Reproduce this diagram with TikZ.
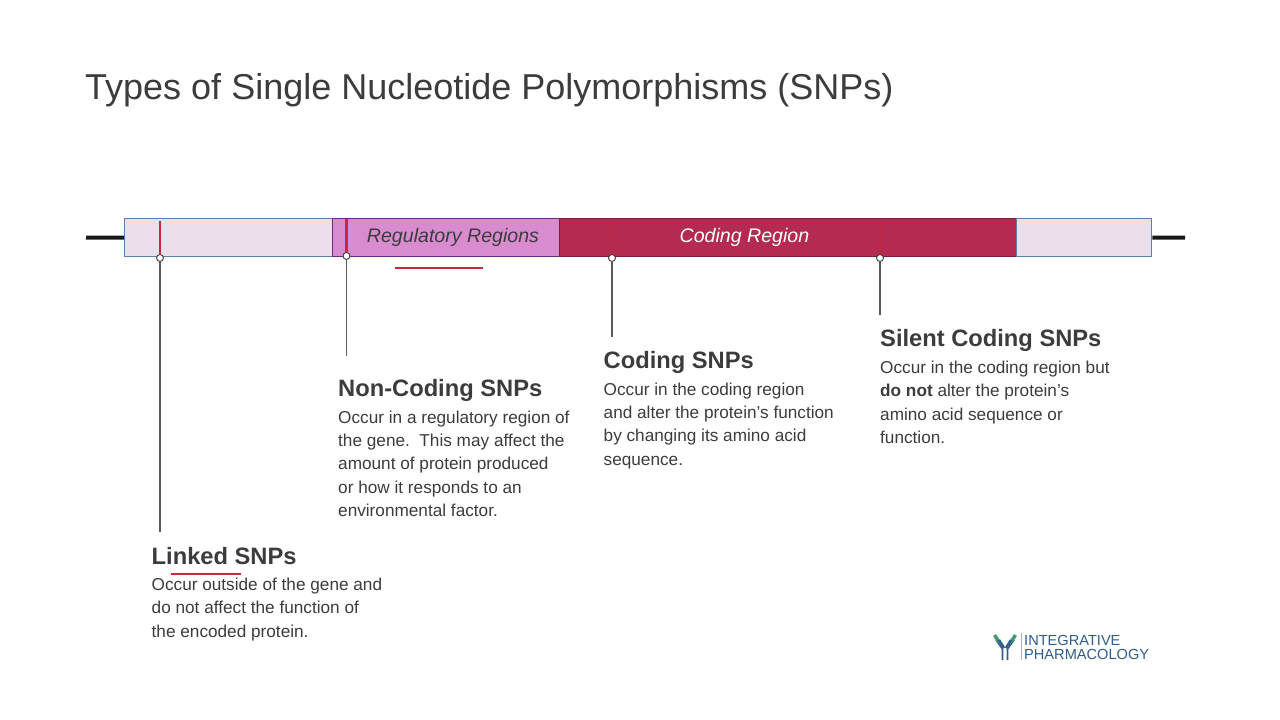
\documentclass[tikz,border=0pt]{standalone}
\usepackage{fontspec}
\setmainfont{Liberation Sans}
\definecolor{inkgrey}{HTML}{3C3C3C}
\definecolor{palebox}{HTML}{EBDFEB}
\definecolor{boxedge}{HTML}{5B82AE}
\definecolor{regfill}{HTML}{D98BCF}
\definecolor{regedge}{HTML}{6B2A86}
\definecolor{codfill}{HTML}{B42A50}
\definecolor{codedge}{HTML}{7A1E3C}
\definecolor{snpred}{HTML}{C8283C}
\definecolor{logoblue}{HTML}{2F5D8C}
\definecolor{logogreen}{HTML}{3E9B6E}
\tikzset{
  seg/.style={draw=boxedge,line width=1.3pt,fill=palebox,minimum height=38pt,inner sep=0pt,anchor=north west},
  marker/.style={circle,draw=inkgrey,fill=white,line width=0.9pt,minimum size=7pt,inner sep=0pt},
  leader/.style={draw=black!65,line width=1.2pt},
  tick/.style={draw=snpred,line width=2.4pt},
  heading/.style={anchor=base west,inner sep=0pt,text=inkgrey,font=\fontsize{23.7}{28}\selectfont\bfseries},
  body/.style={anchor=north west,inner sep=0pt,text=inkgrey,align=left,font=\fontsize{17.2}{23.3}\selectfont},
}
\begin{document}
\begin{tikzpicture}[x=1pt,y=-1pt]
   \useasboundingbox[fill=white] (0,0) rectangle (1280,720);
   \node[anchor=base west,inner sep=0pt,text=inkgrey,font=\fontsize{36}{40}\selectfont] (title) at (85,99.5) {Types of Single Nucleotide Polymorphisms (SNPs)};
   % gene bar
   \coordinate (wireL) at (86,237.5);
   \coordinate (wireR) at (1185,237.5);
   \node[seg,minimum width=208pt] (flankL) at (124,218) {};
   \node[seg,minimum width=227pt,fill=regfill,draw=regedge] (reg) at (332,218) {};
   \node[seg,minimum width=457pt,fill=codfill,draw=codedge] (cod) at (559,218) {};
   \node[seg,minimum width=135pt] (flankR) at (1016,218) {};
   \draw[line width=4pt,black!90] (wireL) -- (flankL.west);
   \draw[line width=4pt,black!90] (flankR.east) -- (wireR);
   \node[font=\fontsize{19.6}{24}\selectfont\itshape,text=inkgrey] (regtext) at (453,237) {Regulatory Regions};
   \node[font=\fontsize{19.6}{24}\selectfont\itshape,text=white] (codtext) at (744.5,237) {Coding Region};
   % markers
   \node[marker] (m1) at (160,258) {};
   \node[marker] (m2) at (346.5,256) {};
   \node[marker] (m3) at (612,258) {};
   \node[marker] (m4) at (880,258) {};
   \coordinate (t1) at (160,221);
   \coordinate (t2) at (346.5,219);
   \coordinate (t3) at (612,219);
   \coordinate (t4) at (880,219);
   \draw[tick] (t1) -- (m1);
   \draw[tick] (t2) -- (m2);
   \draw[draw=snpred!80!codfill,line width=0.8pt] (t3) -- (m3);
   \draw[draw=snpred!80!codfill,line width=0.8pt] (t4) -- (m4);
   \coordinate (e1) at (160,532);
   \coordinate (e2) at (346.5,356);
   \coordinate (e3) at (612,337);
   \coordinate (e4) at (880,315);
   \draw[leader] (m1) -- (e1);
   \draw[leader] (m2) -- (e2);
   \draw[leader] (m3) -- (e3);
   \draw[leader] (m4) -- (e4);
   % texts
   \node[heading] (h1) at (151.5,564) {Linked SNPs};
   \node[body] (b1) at (151.5,578) {Occur outside of the gene and\\do not affect the function of\\the encoded protein.};
   \node[heading] (h2) at (338,396) {Non-Coding SNPs};
   \node[body] (b2) at (338,410.5) {Occur in a regulatory region of\\the gene.\ \ This may affect the\\amount of protein produced\\or how it responds to an\\environmental factor.};
   \node[heading] (h3) at (603.5,368) {Coding SNPs};
   \node[body] (b3) at (603.5,382.5) {Occur in the coding region\\and alter the protein's function\\by changing its amino acid\\sequence.};
   \node[heading] (h4) at (880,346) {Silent Coding SNPs};
   \node[body] (b4) at (880,361) {Occur in the coding region but\\\textbf{do not} alter the protein's\\amino acid sequence or\\function.};
   % red underlines
   \coordinate (u1a) at (395,268);
   \coordinate (u1b) at (483,268);
   \coordinate (u2a) at (171,574);
   \coordinate (u2b) at (241,574);
   \draw[draw=snpred,line width=1.6pt] (u1a) -- (u1b);
   \draw[draw=snpred,line width=1.6pt] (u2a) -- (u2b);
   % logo
   \draw[logoblue,line width=1.6pt] (1002.5,660) -- (1002.5,649) -- (996,640);
   \draw[logoblue,line width=1.6pt] (1007.5,660) -- (1007.5,649) -- (1014,640);
   \draw[logogreen,line width=3.4pt] (994.5,635) -- (999,642);
   \draw[logogreen,line width=3.4pt] (1015.5,635) -- (1011,642);
   \draw[logoblue,line width=2.6pt] (999,640) -- (1004,648);
   \draw[logoblue,line width=2.6pt] (1011,640) -- (1006,648);
   \draw[black!30,line width=0.6pt] (1021,633) -- (1021,660);
   \node[anchor=base west,inner sep=0pt,text=logoblue,align=left,font=\fontsize{14.6}{15}\selectfont] (logoA) at (1024,645.5) {INTEGRATIVE};
   \node[anchor=base west,inner sep=0pt,text=logoblue,align=left,font=\fontsize{14.6}{15}\selectfont] (logoB) at (1024,659.5) {PHARMACOLOGY};
\end{tikzpicture}
\end{document}
